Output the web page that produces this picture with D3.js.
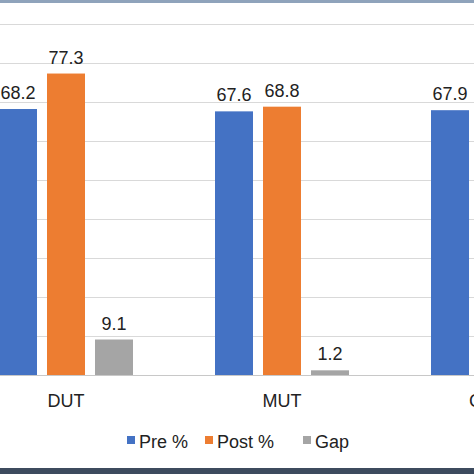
<!DOCTYPE html>
<html>
<head>
<meta charset="utf-8">
<script src="https://cdnjs.cloudflare.com/ajax/libs/d3/7.8.5/d3.min.js"></script>
<style>
  body { margin: 0; background: #fff; }
  svg { display: block; font-family: "Liberation Sans", Arial, sans-serif; }
</style>
</head>
<body>
<svg id="chart" width="474" height="474"></svg>
<script>
var categories = ["DUT", "MUT", "Control"];
var series = ["Pre %", "Post %", "Gap"];
var preVals = [68.2, 67.6, 67.9];
var postVals = [77.3, 68.8, null];
var gapVals = [9.1, 1.2, null];
var yTicks = [0, 10, 20, 30, 40, 50, 60, 70, 80, 90];
var colors = ["#4472c4", "#ed7d31", "#a5a5a5"];

var svg = d3.select("#chart");

// frame bands
svg.append("rect").attr("x", 0).attr("y", 0).attr("width", 474).attr("height", 3).attr("fill", "#8fa3bb");
svg.append("rect").attr("x", 0).attr("y", 468).attr("width", 474).attr("height", 6).attr("fill", "#3d4b5e");

var y = d3.scaleLinear().domain([0, 90]).range([375, 24]);
var x = d3.scaleBand().domain(categories).range([-42, 606]);
var xs = d3.scaleBand().domain(series).range([-67, 67]).paddingInner(0.2083);

// gridlines
svg.selectAll(".grid").data(yTicks).enter().append("line")
  .attr("x1", 0).attr("x2", 474)
  .attr("y1", function(d) { return y(d) + 0.5; })
  .attr("y2", function(d) { return y(d) + 0.5; })
  .attr("stroke", function(d) { return d === 0 ? "#c8c8c8" : "#d9d9d9"; })
  .attr("stroke-width", 1.2);

var data = [];
categories.forEach(function(c, i) {
  [preVals, postVals, gapVals].forEach(function(arr, j) {
    if (arr[i] != null) data.push({ cat: c, s: series[j], v: arr[i], color: colors[j] });
  });
});

function cx(d) { return x(d.cat) + x.bandwidth() / 2 + xs(d.s); }

svg.selectAll(".bar").data(data).enter().append("rect")
  .attr("x", cx)
  .attr("y", function(d) { return y(d.v); })
  .attr("width", xs.bandwidth())
  .attr("height", function(d) { return y(0) - y(d.v); })
  .attr("fill", function(d) { return d.color; });

svg.selectAll(".lbl").data(data).enter().append("text")
  .attr("x", function(d) { return cx(d) + xs.bandwidth() / 2; })
  .attr("y", function(d) { return y(d.v) - 10; })
  .attr("text-anchor", "middle")
  .attr("font-size", 18)
  .attr("fill", "#222")
  .text(function(d) { return d.v.toFixed(1); });

svg.selectAll(".cat").data(categories).enter().append("text")
  .attr("x", function(d) { return x(d) + x.bandwidth() / 2; })
  .attr("y", 407)
  .attr("text-anchor", "middle")
  .attr("font-size", 18)
  .attr("fill", "#222")
  .text(function(d) { return d; });

// legend
var legX = [127, 205, 303];
var leg = svg.selectAll(".leg").data(series).enter().append("g")
  .attr("transform", function(d, i) { return "translate(" + legX[i] + ",448)"; });
leg.append("rect").attr("x", 0).attr("y", -12).attr("width", 8).attr("height", 8)
  .attr("fill", function(d, i) { return colors[i]; });
leg.append("text").attr("x", 12).attr("y", 0).attr("font-size", 18).attr("fill", "#222")
  .text(function(d) { return d; });
</script>
</body>
</html>
